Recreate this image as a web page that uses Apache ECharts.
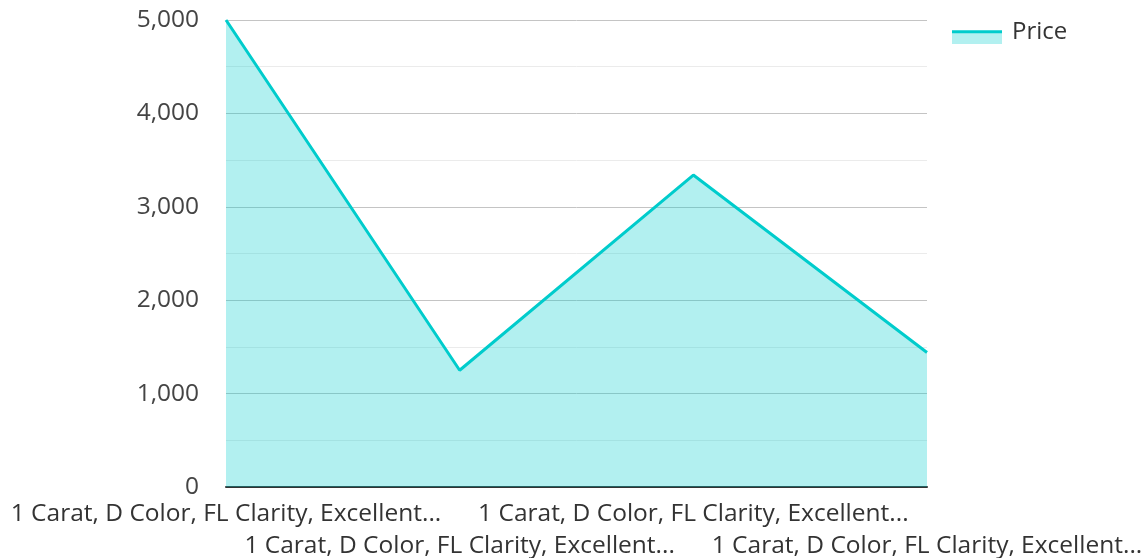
<!DOCTYPE html>
<html>
<head>
<meta charset="utf-8">
<script src="https://cdn.jsdelivr.net/npm/echarts@6/dist/echarts.min.js"></script>
<style>
html,body{margin:0;padding:0;background:#fff;}
#chart{width:1148px;height:558px;}
</style>
</head>
<body>
<div id="chart"></div>
<script>
const categories = [
  "1 Carat, D Color, FL Clarity, Excellent...",
  "1 Carat, D Color, FL Clarity, Excellent...",
  "1 Carat, D Color, FL Clarity, Excellent...",
  "1 Carat, D Color, FL Clarity, Excellent..."
];
const priceValues = [5000, 1250, 3340, 1440];
const seriesName = "Price";

const FONT = "'Open Sans', 'Noto Sans', sans-serif";
const LINE = "#00cccc";
const chart = echarts.init(document.getElementById('chart'), null, {renderer: 'canvas'});
chart.setOption({
  animation: false,
  backgroundColor: '#ffffff',
  grid: {left: 226, right: 221, top: 20, bottom: 71, containLabel: false, outerBoundsMode: 'none'},
  legend: [
    {
      data: [{name: seriesName, icon: 'rect', itemStyle: {color: 'rgba(0,204,204,0.3)'}}],
      left: 947, top: 21.5, orient: 'vertical',
      itemWidth: 50, itemHeight: 11,
      textStyle: {color: 'rgba(0,0,0,0)', fontFamily: FONT, fontSize: 24, lineHeight: 24, padding: [0,0,0,5]},
      selectedMode: false
    },
    {
      data: [{name: seriesName, icon: 'rect', itemStyle: {color: LINE}}],
      left: 947, top: 14.7, orient: 'vertical',
      itemWidth: 50, itemHeight: 3,
      textStyle: {color: '#333333', fontFamily: FONT, fontSize: 24, lineHeight: 24, padding: [0,0,0,5]}
    }
  ],
  xAxis: {
    type: 'category',
    data: categories,
    boundaryGap: false,
    axisLine: {show: true, lineStyle: {color: '#333333', width: 2}},
    axisTick: {show: false},
    axisLabel: {
      interval: 0,
      color: '#333333',
      fontFamily: FONT,
      fontSize: 24.5,
      lineHeight: 32,
      margin: 11,
      formatter: function (v, i) { return i % 2 ? '\n' + v : v; }
    },
    splitLine: {show: false}
  },
  yAxis: {
    type: 'value',
    min: 0, max: 5000, interval: 1000,
    axisLine: {show: false},
    axisTick: {show: false},
    axisLabel: {
      color: '#444444', fontFamily: FONT, fontSize: 24.5, margin: 27,
      formatter: function (v) { return v.toLocaleString('en-US'); }
    },
    splitLine: {show: true, lineStyle: {color: '#c4c4c4', width: 1}},
    minorTick: {show: false, splitNumber: 2},
    minorSplitLine: {show: true, lineStyle: {color: '#ebebeb', width: 1}}
  },
  series: [{
    name: seriesName,
    type: 'line',
    data: priceValues,
    symbol: 'none',
    lineStyle: {color: LINE, width: 3},
    itemStyle: {color: LINE},
    areaStyle: {color: LINE, opacity: 0.3}
  }]
});
</script>
</body>
</html>
